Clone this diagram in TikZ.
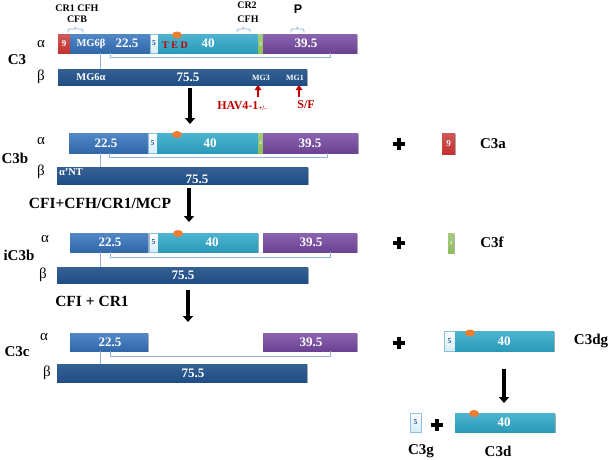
\documentclass[tikz,border=0pt]{standalone}
\usepackage{fontspec}
\setmainfont{Liberation Serif}
\newfontfamily\sansf{Liberation Sans}
\usetikzlibrary{arrows.meta,shadows,shapes.geometric}
\definecolor{cRed}{HTML}{C3312F}
\definecolor{cBlue}{HTML}{3573BD}
\definecolor{cNavy}{HTML}{1F4E86}
\definecolor{cTeal}{HTML}{2EA7C8}
\definecolor{cLight}{HTML}{D5ECF7}
\definecolor{cLightB}{HTML}{8CC0DD}
\definecolor{cGreen}{HTML}{8FBE5C}
\definecolor{cPurple}{HTML}{7649A2}
\definecolor{cOrange}{HTML}{ED7D31}
\definecolor{cLink}{HTML}{8EB3E0}
\definecolor{cDarkRed}{HTML}{C00000}
\tikzset{
  segbase/.style={inner sep=0pt, outer sep=0pt, draw=none,
    drop shadow={shadow xshift=0.8pt, shadow yshift=-0.8pt, opacity=0.3, fill=black}},
  sred/.style={segbase, top color=cRed!80!white, bottom color=cRed},
  sblue/.style={segbase, top color=cBlue!85!white, bottom color=cBlue!90!black},
  snavy/.style={segbase, top color=cNavy!90!white, bottom color=cNavy},
  steal/.style={segbase, top color=cTeal!85!white, bottom color=cTeal!92!black},
  sgreen/.style={segbase, top color=cGreen!80!white, bottom color=cGreen},
  spurple/.style={segbase, top color=cPurple!85!white, bottom color=cPurple!90!black},
  slight/.style={segbase, draw=cLightB, line width=0.5pt, top color=white, bottom color=cLight},
  dotmark/.style={ellipse, fill=cOrange, draw=none, inner sep=0pt, minimum width=10pt, minimum height=7pt},
  lbl/.style={font=\fontsize{15}{15}\selectfont\bfseries, inner sep=0pt},
  greek/.style={font=\fontsize{15}{15}\selectfont, inner sep=0pt},
  num/.style={font=\fontsize{13}{13}\selectfont\bfseries, text=white, inner sep=0pt},
  mg/.style={font=\fontsize{10.5}{10.5}\selectfont\bfseries, text=white, inner sep=0pt},
  mgs/.style={font=\fontsize{8}{8}\selectfont\bfseries, text=white, inner sep=0pt},
  nine/.style={font=\fontsize{9}{9}\selectfont\bfseries, text=white, inner sep=0pt},
  five/.style={font=\fontsize{7.5}{7.5}\selectfont\bfseries, text=cNavy, inner sep=0pt},
  two/.style={font=\fontsize{5}{5}\selectfont\bfseries, text=white, inner sep=0pt},
  ted/.style={font=\fontsize{10}{10}\selectfont\bfseries, text=cDarkRed, inner sep=0pt},
  toplbl/.style={font=\fontsize{10}{10}\selectfont\bfseries, inner sep=0pt},
  redlbl/.style={font=\fontsize{12}{12}\selectfont\bfseries, text=cDarkRed, inner sep=0pt},
  link/.style={draw=cLink, line width=0.8pt},
  bracestyle/.style={draw=cLink, line width=0.8pt, rounded corners=1.2pt},
  redarr/.style={draw=cDarkRed, line width=2pt, -{Triangle[width=6.5pt,length=5pt]}},
  bigarr/.style={draw=black, line width=4.5pt, -{Triangle[width=10pt,length=6pt]}},
  plusbar/.style={draw=black, line width=4pt},
}
\newcommand\seg[6]{\node[#6, minimum width={(#4-#2)*1pt}, minimum height={(#5-#3)*1pt}, anchor=north west] (#1) at (#2,#3) {};}
\newcommand\brc[3]{\draw[bracestyle] (#1,#3+3.5) -- (#1,#3) -- ({(#1+#2)/2},#3) -- ({(#1+#2)/2},#3-2.5) ({(#1+#2)/2},#3) -- (#2,#3) -- (#2,#3+3.5);}
\newcommand\plusmark[2]{\draw[plusbar] (#1-6,#2) -- (#1+6,#2) (#1,#2-6) -- (#1,#2+6);}
\begin{document}
\begin{tikzpicture}[x=1pt,y=-1pt]
\useasboundingbox (0,0) rectangle (609,459);

% ---------------- C3 ----------------
\seg{c3red}{58}{34}{70}{53}{sred}
\seg{c3blue}{70}{34}{150}{53}{sblue}
\seg{c3five}{150}{34}{158}{53}{slight}
\seg{c3teal}{158}{34}{258}{53}{steal}
\seg{c3green}{258}{34}{263}{53}{sgreen}
\seg{c3purple}{263}{34}{357}{53}{spurple}
\seg{c3beta}{58}{69}{307}{85}{snavy}
\node[nine] (c3t9) at (c3red) {9};
\node[mg] (c3tmg) at (91,43.5) {MG6β};
\node[num] (c3t22) at (127,43.5) {22.5};
\node[five] (c3t5) at (c3five) {5};
\node[ted] (c3tted) at (175,45) {T E D};
\node[num] (c3t40) at (208,43.5) {40};
\node[two] (c3t2) at (c3green) {2};
\node[num] (c3t39) at (306,43.5) {39.5};
\node[dotmark] (c3dot) at (177,35) {};
\node[mg] (c3tmga) at (91,77) {MG6α};
\node[num] (c3t75) at (188,77) {75.5};
\node[mgs] (c3tmg3) at (261,77.5) {MG3};
\node[mgs] (c3tmg1) at (295,77.5) {MG1};
\node[greek] (c3al) at (41,44) {α};
\node[lbl] (c3lab) at (17,60) {C3};
\node[greek] (c3be) at (41,77) {β};
\node[toplbl] (top1) at (77,8) {CR1 CFH};
\node[toplbl] (top2) at (77,19.5) {CFB};
\node[toplbl] (top3) at (247,5.5) {CR2};
\node[toplbl] (top4) at (248,19.5) {CFH};
\node[font=\fontsize{12.5}{12.5}\selectfont\sansf\bfseries, inner sep=0pt] (top5) at (298,9) {P};
\brc{68}{83}{29}
\brc{237}{250}{29}
\brc{291}{304}{29}
\coordinate (c3v) at (100,0);
\draw[link] (c3v |- c3blue.south) -- (c3v |- c3beta.north);
\coordinate (c3k1) at (110,57.5);
\coordinate (c3k2) at (330,57.5);
\draw[link] (c3k1 |- c3blue.south) -- (c3k1) -- (c3k2) -- (c3k2 |- c3purple.south);
\coordinate (h1) at (258,97);
\coordinate (h2) at (299,97);
\draw[redarr] (h1) -- (h1 |- c3beta.south);
\draw[redarr] (h2) -- (h2 |- c3beta.south);
\node[redlbl] (hav) at (242,106) {HAV4-1\raisebox{-1.5pt}{\fontsize{7}{7}\selectfont +/-}};
\node[redlbl] (sf) at (306,105) {S/F};
\coordinate (a1s) at (190,88);
\coordinate (a1e) at (190,124);
\draw[bigarr] (a1s) -- (a1e);

% ---------------- C3b ----------------
\seg{bblue}{69}{133}{148}{153}{sblue}
\seg{bfive}{148}{133}{157}{153}{slight}
\seg{bteal}{157}{133}{258}{153}{steal}
\seg{bgreen}{258}{133}{263}{153}{sgreen}
\seg{bpurple}{263}{133}{358}{153}{spurple}
\seg{bbeta}{57}{167}{308}{184}{snavy}
\node[num] (bt22) at (106,143) {22.5};
\node[five] (bt5) at (bfive) {5};
\node[num] (bt40) at (210,143) {40};
\node[two] (bt2) at (bgreen) {2};
\node[num] (bt39) at (310,143) {39.5};
\node[dotmark] (bdot) at (177,134.5) {};
\node[mg] (btnt) at (71,172) {α’NT};
\node[num] (bt75) at (197,179.5) {75.5};
\node[greek] (bal) at (41,141) {α};
\node[lbl] (blab) at (15,158) {C3b};
\node[greek] (bbe) at (41,172) {β};
\coordinate (bv) at (100,0);
\draw[link] (bv |- bblue.south) -- (bv |- bbeta.north);
\coordinate (bk1) at (109,157.5);
\coordinate (bk2) at (327,157.5);
\draw[link] (bk1 |- bblue.south) -- (bk1) -- (bk2) -- (bk2 |- bpurple.south);
\plusmark{399}{143.5}
\seg{c3a}{442}{133}{455}{154}{sred}
\node[nine] (c3at) at (c3a) {9};
\node[lbl] (c3alab) at (493,144) {C3a};
\node[font=\fontsize{15.5}{15.5}\selectfont\bfseries, inner sep=0pt] (enz1) at (100,203) {CFI+CFH/CR1/MCP};
\coordinate (a2s) at (189,188);
\coordinate (a2e) at (189,222);
\draw[bigarr] (a2s) -- (a2e);

% ---------------- iC3b ----------------
\seg{iblue}{70}{233}{148}{252}{sblue}
\seg{ifive}{149}{233}{158}{252}{slight}
\seg{iteal}{158}{233}{258}{252}{steal}
\seg{ipurple}{263}{233}{357}{252}{spurple}
\seg{ibeta}{57}{267}{308}{283}{snavy}
\node[num] (it22) at (110,242) {22.5};
\node[five] (it5) at (ifive) {5};
\node[num] (it40) at (212,242.5) {40};
\node[num] (it39) at (311,242) {39.5};
\node[dotmark] (idot) at (178,233.5) {};
\node[num] (it75) at (183,275) {75.5};
\node[greek] (ial) at (45,239) {α};
\node[lbl] (ilab) at (19,255) {iC3b};
\node[greek] (ibe) at (43,275) {β};
\coordinate (iv) at (100,0);
\draw[link] (iv |- iblue.south) -- (iv |- ibeta.north);
\coordinate (ik1) at (110,257);
\coordinate (ik2) at (330,257);
\draw[link] (ik1 |- iblue.south) -- (ik1) -- (ik2) -- (ik2 |- ipurple.south);
\plusmark{399}{242.5}
\seg{c3f}{448}{233}{454}{253}{sgreen}
\node[two] (c3ft) at (c3f) {2};
\node[lbl] (c3flab) at (492,242) {C3f};
\node[font=\fontsize{15.5}{15.5}\selectfont\bfseries, inner sep=0pt] (enz2) at (92,301) {CFI + CR1};
\coordinate (a3s) at (188,290);
\coordinate (a3e) at (188,322);
\draw[bigarr] (a3s) -- (a3e);

% ---------------- C3c ----------------
\seg{cblue}{70}{333}{148}{351}{sblue}
\seg{cpurple}{263}{333}{357}{351}{spurple}
\seg{cbeta}{57}{364}{307}{382}{snavy}
\node[num] (ct22) at (110,342) {22.5};
\node[num] (ct39) at (311,342) {39.5};
\node[num] (ct75) at (193,373) {75.5};
\node[greek] (cal) at (44,337) {α};
\node[lbl] (clab) at (17,352) {C3c};
\node[greek] (cbe) at (47,373) {β};
\coordinate (cv) at (100,0);
\draw[link] (cv |- cblue.south) -- (cv |- cbeta.north);
\coordinate (ck1) at (110,356);
\coordinate (ck2) at (330,356);
\draw[link] (ck1 |- cblue.south) -- (ck1) -- (ck2) -- (ck2 |- cpurple.south);
\plusmark{399}{342.5}

% ---------------- C3dg ----------------
\seg{dgfive}{444}{331}{455}{351}{slight}
\seg{dgteal}{455}{331}{554}{351}{steal}
\node[five] (dgt5) at (dgfive) {5};
\node[num] (dgt40) at (504,341) {40};
\node[dotmark] (dgdot) at (470,333) {};
\node[lbl] (dglab) at (591,341) {C3dg};
\coordinate (a4s) at (504,369);
\coordinate (a4e) at (504,403);
\draw[bigarr] (a4s) -- (a4e);

% ---------------- C3g + C3d ----------------
\seg{gfive}{410}{413}{421}{432}{slight}
\node[five] (gt5) at (gfive) {5};
\plusmark{437}{425}
\seg{dteal}{455}{413}{555}{432}{steal}
\node[num] (dt40) at (504,422.5) {40};
\node[dotmark] (ddot) at (474,413.5) {};
\node[lbl] (glab) at (421,451) {C3g};
\node[lbl] (dlab) at (498,451) {C3d};
\end{tikzpicture}
\end{document}
